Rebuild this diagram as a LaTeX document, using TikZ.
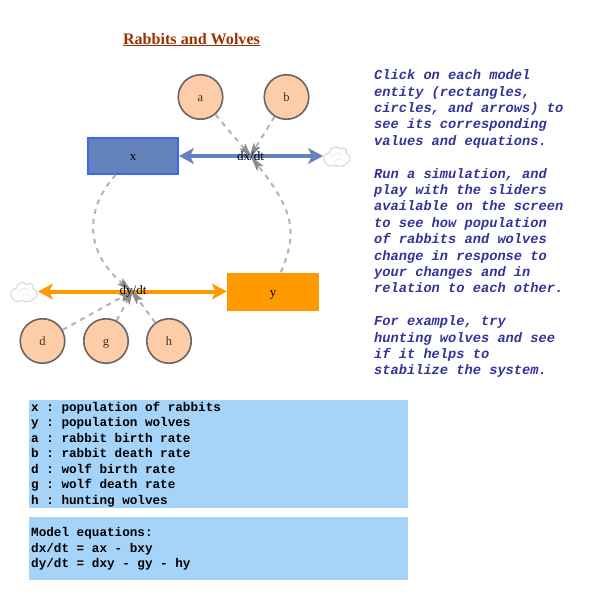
\documentclass[tikz,border=0pt]{standalone}
\usepackage{fontspec}
\setmainfont{Liberation Serif}
\setmonofont{Liberation Mono}
\usetikzlibrary{arrows.meta}
\definecolor{blueflow}{HTML}{6483BD}
\definecolor{blueedge}{HTML}{3F66EE}
\definecolor{orangeflow}{HTML}{FF9900}
\definecolor{peach}{HTML}{FFCCA8}
\definecolor{ringgray}{HTML}{666666}
\definecolor{linkgray}{HTML}{B3B3B3}
\definecolor{headgray}{HTML}{8C8C8C}
\definecolor{titlecol}{HTML}{993300}
\definecolor{notecol}{HTML}{333399}
\definecolor{panelblue}{HTML}{A6D3F8}
\tikzset{
  x=1pt,y=-1pt,
  lowtext/.style={text height=11pt,text depth=2pt},
  param/.style={circle,draw=ringgray,line width=1.6pt,fill=peach,minimum size=44.5pt,inner sep=0pt,lowtext,font=\fontsize{12.5}{14}\selectfont,text=black!80},
  flowlabel/.style={inner sep=0pt,font=\fontsize{13}{14}\selectfont},
  link/.style={draw=linkgray,line width=2pt,dash pattern=on 5pt off 5pt,-{Stealth[length=16pt,width=8pt,inset=3pt,fill=headgray,color=headgray,line width=0pt]}},
  blueflowline/.style={draw=blueflow,line width=4pt,-{Stealth[length=15pt,width=16pt,inset=4pt,color=blueflow]}},
  orangeflowline/.style={draw=orangeflow,line width=4pt,-{Stealth[length=15pt,width=16pt,inset=4pt,color=orangeflow]}},
  paneltext/.style={anchor=north west,inner sep=0pt,align=left,font=\ttfamily\bfseries\fontsize{12.65}{15.5}\selectfont},
  notetext/.style={anchor=north west,inner sep=0pt,align=left,text=notecol,font=\ttfamily\bfseries\itshape\fontsize{13.7}{16.4}\selectfont},
  cloudline/.style={draw=black!16,line width=1pt,fill=white},
  cloudfold/.style={draw=black!9,line width=.6pt}
}
\newcommand{\flowcloud}[3]{%
  \path[cloudline] (#1-12,#2+6) .. controls (#1-15,#2+1) and (#1-12,#2-3) .. (#1-8,#2-3)
    .. controls (#1-7,#2-9) and (#1,#2-11) .. (#1+3,#2-7)
    .. controls (#1+7,#2-10) and (#1+11,#2-6) .. (#1+9,#2-3)
    .. controls (#1+14,#2-1) and (#1+15,#2+6) .. (#1+10,#2+7)
    .. controls (#1+7,#2+11) and (#1,#2+11) .. (#1-2,#2+9)
    .. controls (#1-6,#2+11) and (#1-11,#2+10) .. (#1-12,#2+6) -- cycle;
  \path[cloudfold] (#1-6,#2+2) .. controls (#1-5,#2-4) and (#1+3,#2-5) .. (#1+5,#2)
    (#1-2,#2+6) .. controls (#1-1,#2+2) and (#1+4,#2+1) .. (#1+7,#2+5);
  \coordinate (#3) at (#1,#2);}
\begin{document}
\begin{tikzpicture}
\useasboundingbox (0,0) rectangle (590,600);

\node[anchor=base,inner sep=0pt,text=titlecol,font=\bfseries\fontsize{16.1}{18}\selectfont] (title) at (191.5,44) {\underline{Rabbits and Wolves}};

% panels
\fill[panelblue] (29,400) rectangle (408,508);
\fill[panelblue] (29,517) rectangle (408,580);
\node[paneltext] (defs) at (31,401.5) {x : population of rabbits\\y : population wolves\\a : rabbit birth rate\\b : rabbit death rate\\d : wolf birth rate\\g : wolf death rate\\h : hunting wolves};
\node[paneltext] (eqs) at (31,527.5) {Model equations:\\dx/dt = ax - bxy\\dy/dt = dxy - gy - hy};

% notes
\node[notetext] (note) at (374,69.5) {Click on each model\\entity (rectangles,\\circles, and arrows) to\\see its corresponding\\values and equations.\\[16.4pt]Run a simulation, and\\play with the sliders\\available on the screen\\to see how population\\of rabbits and wolves\\change in response to\\your changes and in\\relation to each other.\\[16.4pt]For example, try\\hunting wolves and see\\if it helps to\\stabilize the system.};

% stocks
\node[draw=blueedge,line width=2pt,fill=blueflow,minimum width=90pt,minimum height=35.5pt,inner sep=0pt,lowtext,font=\fontsize{13}{14}\selectfont] (x) at (133,156) {x};
\node[fill=orangeflow,minimum width=92pt,minimum height=38pt,inner sep=0pt,lowtext,font=\fontsize{13}{14}\selectfont] (y) at (273,291.5) {y};

% parameters
\node[param] (a) at (200.5,97) {a};
\node[param] (b) at (286.5,97) {b};
\node[param] (d) at (42.5,341) {d};
\node[param] (g) at (106,341) {g};
\node[param] (h) at (169,341) {h};

% clouds
\flowcloud{337}{156}{cloudR}
\flowcloud{24}{291.5}{cloudL}

% flow centres
\coordinate (fx) at (250.5,156);
\coordinate (fy) at (132,291.5);

% flows
\draw[blueflowline,shorten >=14pt] (fx) -- (cloudR);
\draw[blueflowline] (fx) -- (x.east);
\draw[orangeflowline] (fy) -- (y.west);
\draw[orangeflowline,shorten >=14pt] (fy) -- (cloudL);

% influences
\draw[link,shorten >=-3pt] (a) -- (fx);
\draw[link,shorten >=-3pt] (b) -- (fx);
\draw[link] (y) .. controls (296,235) and (297,215) .. (fx);
\draw[link] (x) .. controls (88,205) and (81,248) .. (fy);
\draw[link,shorten >=-3pt] (d) -- (fy);
\draw[link,shorten >=-3pt] (g) -- (fy);
\draw[link,shorten >=-3pt] (h) -- (fy);

\node[flowlabel] (fxlabel) at (250.5,156) {dx/dt};
\node[flowlabel] (fylabel) at (133,291.5) {dy/dt};
\end{tikzpicture}
\end{document}
